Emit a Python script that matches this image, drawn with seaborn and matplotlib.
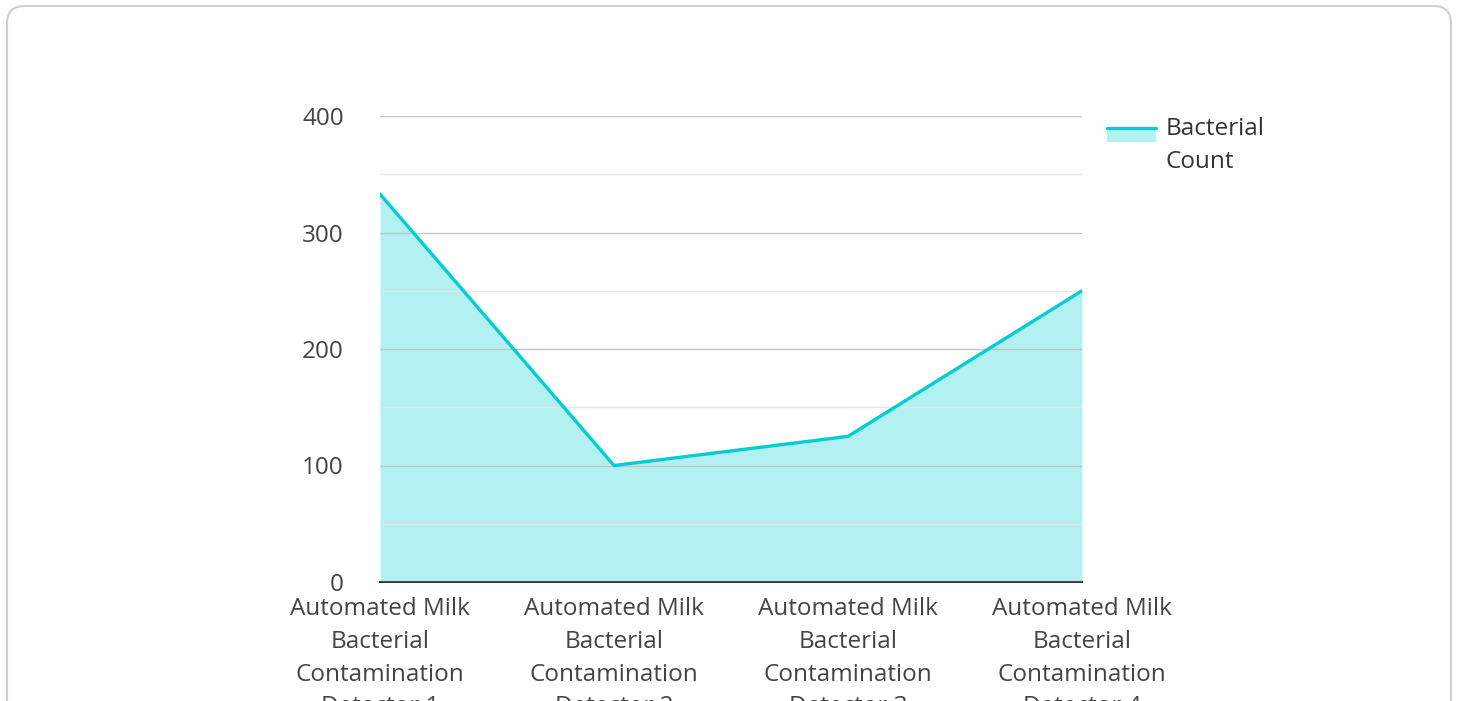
import numpy as np
import pandas as pd
import matplotlib
matplotlib.use("Agg")
import matplotlib.pyplot as plt
from matplotlib.patches import FancyBboxPatch, Rectangle
from matplotlib.lines import Line2D
from matplotlib.legend_handler import HandlerBase
import seaborn as sns

# ================= DADOS =================
detectores = [
    "Automated Milk\nBacterial\nContamination\nDetector 1",
    "Automated Milk\nBacterial\nContamination\nDetector 2",
    "Automated Milk\nBacterial\nContamination\nDetector 3",
    "Automated Milk\nBacterial\nContamination\nDetector 4",
]
contagem = [333, 100, 125, 250]
serie_nome = "Bacterial\nCount"
y_ticks = [0, 100, 200, 300, 400]

COR_LINHA = "#00CED1"
COR_TEXTO = "#444444"
FONTE = 17.5


class HandlerAreaTopo(HandlerBase):
    # area + linha, alinhada com a primeira linha do texto
    def create_artists(self, legend, orig_handle, xdescent, ydescent,
                       width, height, fontsize, trans):
        c = -ydescent + height / 2
        desloc = 0.46 * fontsize
        h = 0.54 * fontsize
        rect = Rectangle((-xdescent, c + desloc - h / 2), width, h,
                         facecolor=COR_LINHA, alpha=0.3, linewidth=0,
                         transform=trans)
        topo = c + desloc + h / 2
        linha = Line2D([-xdescent, -xdescent + width], [topo, topo],
                       color=COR_LINHA, linewidth=2.4, transform=trans)
        return [rect, linha]


# ================= FIGURA =================
sns.set_theme(style="white")
plt.rcParams["font.family"] = ["Open Sans", "DejaVu Sans"]

fig = plt.figure(figsize=(14.58, 7.01), dpi=100)

# cartão com borda arredondada
card = FancyBboxPatch((7 / 1458, -0.05), 1444 / 1458, (701 - 6) / 701 + 0.05,
                      boxstyle="round,pad=0,rounding_size=0.012",
                      transform=fig.transFigure, facecolor="white",
                      edgecolor="#d0d0d0", linewidth=1.5, zorder=-10,
                      mutation_aspect=1458 / 701)
fig.patches.append(card)

ax = fig.add_axes([380 / 1458, (701 - 582) / 701, 702 / 1458, 466 / 701])
ax.set_facecolor("none")
ax.set_zorder(5)

df = pd.DataFrame({"pos": np.arange(len(detectores)), "valor": contagem})
ax.fill_between(df["pos"], df["valor"], 0, color=COR_LINHA, alpha=0.3,
                linewidth=0, zorder=1)
sns.lineplot(data=df, x="pos", y="valor", ax=ax, color=COR_LINHA,
             linewidth=2.4, zorder=3)

ax.set_xlim(0, len(detectores) - 1)
ax.set_ylim(0, 400)
ax.set_yticks(y_ticks)
ax.set_yticks(np.arange(50, 400, 100), minor=True)
ax.set_xticks(df["pos"])
ax.set_xticklabels(detectores, fontsize=FONTE, color=COR_TEXTO, linespacing=1.48)
ax.tick_params(axis="y", labelsize=FONTE, labelcolor=COR_TEXTO, length=0, pad=26)
ax.tick_params(axis="y", which="minor", length=0)
ax.tick_params(axis="x", length=0, pad=11)

ax.grid(axis="y", which="major", color="#c4c4c4", linewidth=1, zorder=2)
ax.grid(axis="y", which="minor", color="#e6e6e6", linewidth=1, zorder=2)
ax.set_axisbelow(False)
for lado in ["top", "right", "left"]:
    ax.spines[lado].set_visible(False)
ax.spines["bottom"].set_color("#333333")
ax.spines["bottom"].set_linewidth(1.5)
ax.set_xlabel("")
ax.set_ylabel("")

leg = ax.legend(["area"], [serie_nome], handler_map={str: HandlerAreaTopo()},
                loc="upper left", bbox_to_anchor=(1.0356, 0.997), frameon=False,
                fontsize=FONTE, handlelength=2.0, handletextpad=0.4,
                borderpad=0, borderaxespad=0, labelcolor="#333333")
for t in leg.get_texts():
    t.set_linespacing(1.48)

fig.savefig("out.png", dpi=100)
